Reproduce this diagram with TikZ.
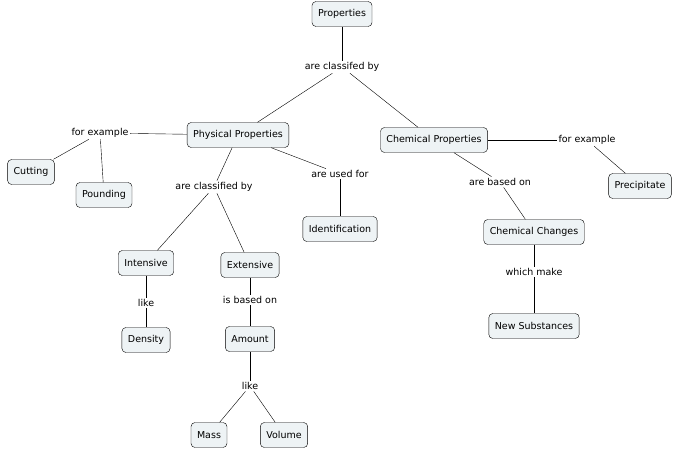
\documentclass[tikz,border=0pt]{standalone}
\usepackage{fontspec}
\setmainfont{DejaVu Sans}
\definecolor{conceptfill}{HTML}{EEF3F5}
\tikzset{
  concept/.style={draw, rounded corners=4pt, fill=conceptfill, inner xsep=6pt, minimum height=25pt, font=\fontsize{9.5}{11}\selectfont},
  link/.style={fill=white, inner sep=1.5pt, font=\fontsize{9.5}{11}\selectfont},
}
\begin{document}
\begin{tikzpicture}[x=1pt, y=-1pt]
        \useasboundingbox (0,0) rectangle (682,449);
        \node[concept] (prop) at (342, 14) {Properties};
        \node[link] (classed) at (342, 67) {are classifed by};
        \node[concept] (phys) at (238, 135) {Physical Properties};
        \node[concept] (chem) at (434, 140) {Chemical Properties};

        \node[link] (exl) at (100, 133) {for example};
        \node[concept] (cut) at (31, 172) {Cutting};
        \node[concept] (pound) at (104, 195) {Pounding};

        \node[link] (classby) at (214, 187) {are classified by};
        \node[concept] (int) at (146, 263) {Intensive};
        \node[concept] (ext) at (250, 265) {Extensive};
        \node[link] (like1) at (146, 303) {like};
        \node[concept] (dens) at (146, 340) {Density};
        \node[link] (basedon) at (250, 300) {is based on};
        \node[concept] (amount) at (250, 339) {Amount};
        \node[link] (like2) at (250, 386) {like};
        \node[concept] (mass) at (209, 435) {Mass};
        \node[concept] (vol) at (284, 435) {Volume};

        \node[link] (used) at (340, 174) {are used for};
        \node[concept] (ident) at (340, 229) {Identification};

        \node[link] (based) at (500, 182) {are based on};
        \node[concept] (cchange) at (534, 232) {Chemical Changes};
        \node[link] (which) at (534, 272) {which make};
        \node[concept] (newsub) at (534, 326) {New Substances};

        \node[link] (exr) at (587, 140) {for example};
        \node[concept] (prec) at (640, 186) {Precipitate};

        \begin{scope}[on background layer/.style={}]
        \draw (prop) -- (classed);
        \draw (classed) -- (phys);
        \draw (classed) -- (chem);
        \draw (phys) -- (exl);
        \draw (exl) -- (cut);
        \draw (exl) -- (pound);
        \draw (phys) -- (classby);
        \draw (classby) -- (int);
        \draw (classby) -- (ext);
        \draw (int) -- (like1);
        \draw (like1) -- (dens);
        \draw (ext) -- (basedon);
        \draw (basedon) -- (amount);
        \draw (amount) -- (like2);
        \draw (like2) -- (mass);
        \draw (like2) -- (vol);
        \draw (phys) -- (used);
        \draw (used) -- (ident);
        \draw (chem) -- (based);
        \draw (based) -- (cchange);
        \draw (cchange) -- (which);
        \draw (which) -- (newsub);
        \draw (chem) -- (exr);
        \draw (exr) -- (prec);
        \end{scope}
      \end{tikzpicture}
\end{document}
